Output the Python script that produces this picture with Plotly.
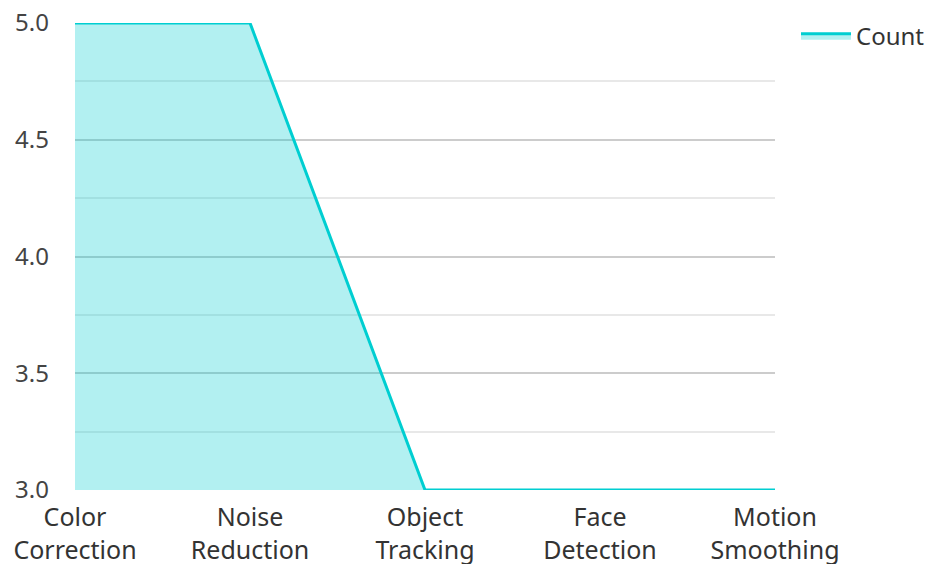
import plotly.graph_objects as go

categories = ["Color<br>Correction", "Noise<br>Reduction", "Object<br>Tracking", "Face<br>Detection", "Motion<br>Smoothing"]
counts = [5, 5, 3, 3, 3]
series_name = "Count"
y_ticks = [3.0, 3.5, 4.0, 4.5, 5.0]
y_tick_labels = ["3.0", "3.5", "4.0", "4.5", "5.0"]

fig = go.Figure()
fig.add_trace(go.Scatter(
    x=categories, y=counts, name=series_name, mode="lines",
    line=dict(color="#00CED1", width=3),
    fill="tozeroy", fillcolor="rgba(0,206,209,0.3)",
))

fig.update_layout(
    width=934, height=564,
    margin=dict(l=67, r=167, t=15, b=82, autoexpand=False),
    paper_bgcolor="white", plot_bgcolor="white",
    font=dict(family="Noto Sans", size=25, color="#333"),
    showlegend=True,
    legend=dict(x=1.03, y=1.02, xanchor="left", yanchor="top", itemwidth=50,
                font=dict(size=24, color="#333"), bgcolor="rgba(0,0,0,0)"),
    xaxis=dict(range=[0, 4], showgrid=False, zeroline=False, showline=False,
               ticks="", tickfont=dict(size=25, color="#333"), automargin=False,
               ticklabelstandoff=10, ticklabeloverflow="allow"),
    yaxis=dict(range=[3, 5], tickvals=y_ticks, ticktext=y_tick_labels,
               showgrid=True, gridcolor="#cccccc", gridwidth=1.5,
               zeroline=False, showline=False, ticks="", automargin=False,
               ticklabelstandoff=25, ticklabeloverflow="allow",
               tickfont=dict(size=24, color="#444"),
               minor=dict(tickvals=[3.25, 3.75, 4.25, 4.75], showgrid=True,
                          gridcolor="#e8e8e8", gridwidth=1.5)),
)

fig.write_html("out.html")
